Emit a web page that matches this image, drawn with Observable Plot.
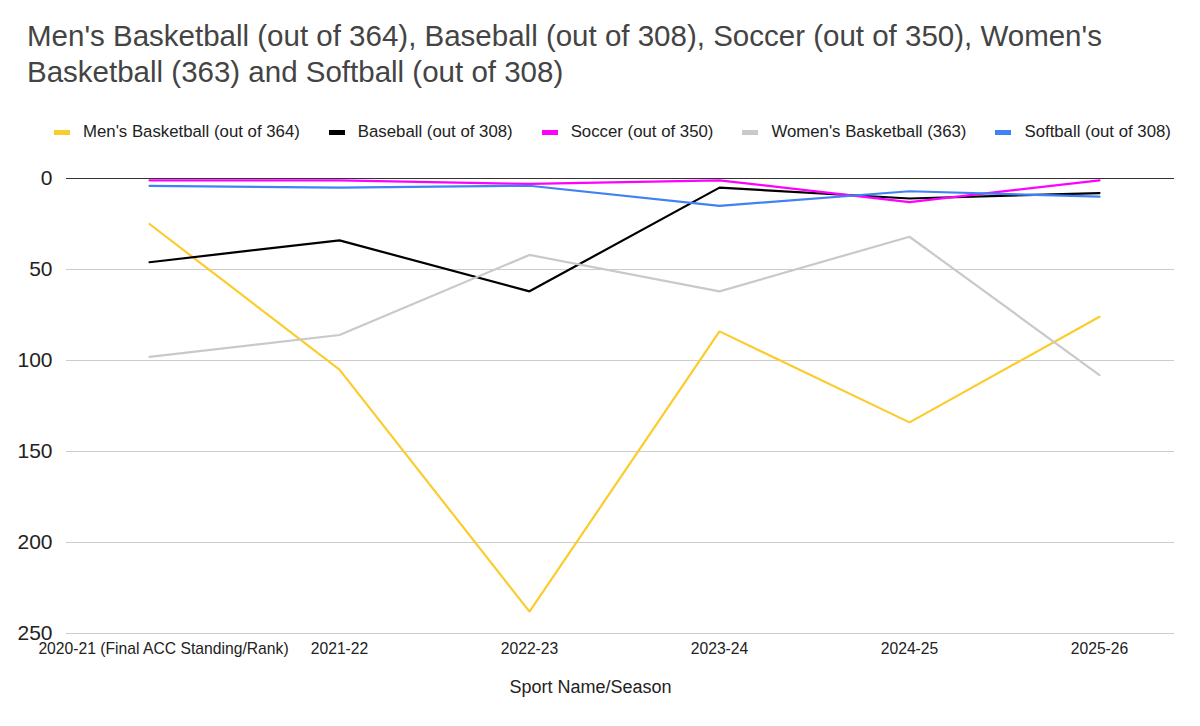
<!DOCTYPE html>
<html>
<head>
<meta charset="utf-8">
<script src="https://cdn.jsdelivr.net/npm/d3@7"></script>
<script src="https://cdn.jsdelivr.net/npm/@observablehq/plot@0.6"></script>
<style>
  body { margin: 0; background: #fff; font-family: Arial, "Liberation Sans", sans-serif; }
  #chart { position: relative; width: 1200px; height: 726px; overflow: hidden; background: #fff; }
  #title { position: absolute; left: 27px; top: 18px; font-size: 29.5px; line-height: 36px; color: #444; white-space: nowrap; }
  #legend { position: absolute; left: 54px; top: 122px; height: 20px; display: flex; align-items: center; font-size: 16.8px; color: #222; white-space: nowrap; }
  .item { display: flex; align-items: center; margin-right: 29px; }
  .swatch { width: 16px; height: 5px; margin-right: 13px; }
  #plot { position: absolute; left: 0; top: 150px; }
</style>
</head>
<body>
<div id="chart">
  <div id="title">Men's Basketball (out of 364), Baseball (out of 308), Soccer (out of 350), Women's<br>Basketball (363) and Softball (out of 308)</div>
  <div id="legend"></div>
  <div id="plot"></div>
</div>
<script>
// Seasons along the x axis
const seasons = ["2020-21 (Final ACC Standing/Rank)", "2021-22", "2022-23", "2023-24", "2024-25", "2025-26"];

// National rank per season (lower is better)
const mensBasketball   = [25, 105, 238, 84, 134, 76];
const baseball         = [46, 34, 62, 5, 11, 8];
const soccer           = [1, 1, 3, 1, 13, 1];
const womensBasketball = [98, 86, 42, 62, 32, 108];
const softball         = [4, 5, 4, 15, 7, 10];

const seriesNames  = ["Men's Basketball (out of 364)", "Baseball (out of 308)", "Soccer (out of 350)", "Women's Basketball (363)", "Softball (out of 308)"];
const seriesValues = [mensBasketball, baseball, soccer, womensBasketball, softball];
const seriesColors = ["#fccb2c", "#000000", "#ff00ff", "#c9c9c9", "#3f82f4"];

const yTicks = [0, 50, 100, 150, 200, 250];
const axisTitle = "Sport Name/Season";

// Long-format rows for the line mark
const rows = seriesNames.flatMap((name, i) =>
  seasons.map((season, j) => ({series: name, season, rank: seriesValues[i][j]}))
);

// Legend
const legend = document.getElementById("legend");
seriesNames.forEach((name, i) => {
  const item = document.createElement("div");
  item.className = "item";
  const sw = document.createElement("span");
  sw.className = "swatch";
  sw.style.background = seriesColors[i];
  const label = document.createElement("span");
  label.textContent = name;
  item.append(sw, label);
  legend.append(item);
});

const chart = Plot.plot({
  width: 1200,
  height: 576,
  marginTop: 28,
  marginBottom: 93,
  marginLeft: 66,
  marginRight: 26,
  style: {fontFamily: "Arial, 'Liberation Sans', sans-serif", background: "#fff"},
  x: {type: "point", domain: seasons, range: [147, 1100], padding: 0, axis: null},
  y: {domain: [0, 250], reverse: true, axis: null},
  color: {domain: seriesNames, range: seriesColors},
  marks: [
    Plot.ruleY(yTicks.filter(d => d > 0), {stroke: "#cccccc", strokeWidth: 1}),
    Plot.axisY({ticks: yTicks, tickSize: 0, tickPadding: 14, fontSize: 21, fill: "#222", label: null}),
    Plot.line(rows, {x: "season", y: "rank", z: "series", stroke: "series", strokeWidth: 2.2, strokeLinejoin: "miter"}),
    Plot.ruleY([0], {stroke: "#333", strokeWidth: 1}),
    // First season label sits shifted right to stay inside the chart
    Plot.text(seasons.slice(0, 1), {x: d => d, text: d => d, frameAnchor: "bottom", dy: 20, dx: 14, fontSize: 15.7, fill: "#222"}),
    Plot.text(seasons.slice(1), {x: d => d, text: d => d, frameAnchor: "bottom", dy: 20, fontSize: 15.7, fill: "#222"}),
    Plot.text([axisTitle], {frameAnchor: "bottom", text: d => d, dx: -30, dy: 59, fontSize: 18, fill: "#222"})
  ]
});
document.getElementById("plot").append(chart);
</script>
</body>
</html>
